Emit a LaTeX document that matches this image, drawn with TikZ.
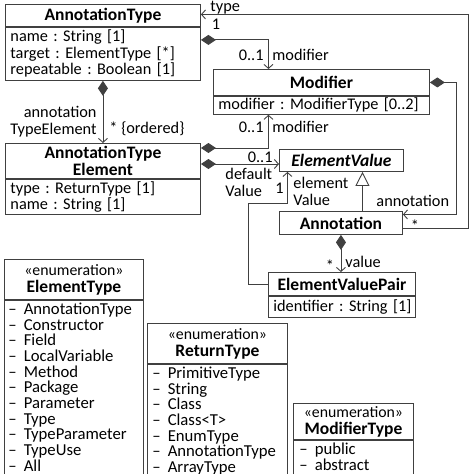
\documentclass[tikz,border=0pt]{standalone}
\usepackage{fontspec}
\setmainfont{Carlito}
\usetikzlibrary{arrows.meta,positioning}
\newcommand{\lit}{–\hspace{7pt}}
\frenchspacing

\begin{document}
\begin{tikzpicture}[x=1pt, y=1pt, line width=0.9pt, font=\fontsize{16.3}{16.5}\selectfont,
  hd/.style={draw=black!75, anchor=north west, inner sep=0pt, align=center, font=\fontsize{17.5}{17}\selectfont\bfseries},
  attr/.style={draw=black!75, inner xsep=5pt, inner ysep=0pt, align=left},
  enumit/.style={draw=black!75, inner xsep=4pt, inner ysep=2pt, align=left, text height=12pt, text depth=200pt, font=\fontsize{16.7}{15.7}\selectfont},
  lbl/.style={inner sep=0pt},
  comp/.style={draw=black!75, {Diamond[length=15pt,width=10pt]}-{Straight Barb[length=4pt,width=9pt]}},
  assoc/.style={draw=black!75, -{Straight Barb[length=4pt,width=9pt]}},
  gen/.style={draw=black!75, -{Triangle[open,length=14pt,width=14pt,fill=white]}}]
\useasboundingbox (0,0) rectangle (474,-474);
\clip (0,0) rectangle (474,-474);
%% classes
\node[hd, minimum width=195pt, minimum height=22pt] (atH) at (5,-4) {AnnotationType};
\node[attr, below=0pt of atH, text width=185pt, minimum height=53pt] (atA) {name : String [1]\\target : ElementType [*]\\repeatable : Boolean [1]};
\node[hd, minimum width=195pt, minimum height=35pt] (ateH) at (5,-143) {AnnotationType\\Element};
\node[attr, below=0pt of ateH, text width=185pt, minimum height=35pt] (ateA) {type : ReturnType [1]\\name : String [1]};
\node[hd, minimum width=216pt, minimum height=26pt] (modH) at (213,-69) {Modifier};
\node[attr, below=0pt of modH, text width=206pt, minimum height=18pt] (modA) {modifier : ModifierType [0..2]};
\node[hd, minimum width=124pt, minimum height=22pt, font=\fontsize{17.5}{17}\selectfont\bfseries\itshape] (ev) at (279,-149) {ElementValue};
\node[hd, minimum width=123pt, minimum height=23pt] (ann) at (279,-211) {Annotation};
\node[hd, minimum width=147pt, minimum height=23pt] (evpH) at (268,-272) {ElementValuePair};
\node[attr, below=0pt of evpH, text width=141pt, inner xsep=3pt, minimum height=21pt] (evpA) {\hspace{2pt}identifier : String [1]};
%% enumerations
\node[hd, minimum width=139pt, minimum height=40pt] (etH) at (4,-259) {{\mdseries\fontsize{15.8}{17}\selectfont «enumeration»}\\ElementType};
\node[enumit, below=0pt of etH, text width=131pt] (etL) {\lit AnnotationType\\\lit Constructor\\\lit Field\\\lit LocalVariable\\\lit Method\\\lit Package\\\lit Parameter\\\lit Type\\\lit TypeParameter\\\lit TypeUse\\\lit All};
\node[hd, minimum width=140pt, minimum height=40pt] (rtH) at (147,-323) {{\mdseries\fontsize{15.8}{17}\selectfont «enumeration»}\\ReturnType};
\node[enumit, below=0pt of rtH, text width=130pt, inner xsep=5pt] (rtL) {\lit PrimitiveType\\\lit String\\\lit Class\\\lit Class<T>\\\lit EnumType\\\lit AnnotationType\\\lit ArrayType};
\node[hd, minimum width=120pt, minimum height=36pt] (mtH) at (293,-403) {{\mdseries\fontsize{15.8}{17}\selectfont «enumeration»}\\ModifierType};
\node[enumit, below=0pt of mtH, text width=108pt, inner xsep=6pt] (mtL) {\lit public\\\lit abstract};
%% associations
\draw[assoc] ([yshift=-5.5pt]ann.east) -- ++(66,0) |- ([yshift=1pt]atH.east);
\draw[comp] ([yshift=-13pt]atA.north east) -| ([xshift=-53pt]modH.north);
\draw[comp] ([yshift=-5pt]ateH.north east) -| ([xshift=-53pt]modA.south);
\draw[comp] ([yshift=-21pt]ateH.north east) -- ([yshift=-21pt]ateH.north east -| ev.west);
\draw[gen] ([xshift=21.5pt]ann.north) -- ([xshift=21.5pt]ann.north |- ev.south);
\draw[assoc] (evpH.west) -| ++(-20,80.5) -| ([xshift=-54pt]ev.south);
\draw[comp] (modH.east) -- ++(27,0) |- ([yshift=8.5pt]ann.east);
\draw[comp] (ann.south) -- (ann.south |- evpH.north);
\draw[comp] (atA.south) -- (atA.south |- ateH.north);
%% role names and multiplicities
\node[lbl, anchor=base west] (lType) at (210,-11) {type};
\node[lbl, anchor=base] (lTypeM) at (216,-29) {1};
\node[lbl, anchor=base east] (lModM1) at (264,-60) {0..1};
\node[lbl, anchor=base west] (lMod1) at (272,-60) {modifier};
\node[lbl, anchor=base east] (lModM2) at (264,-132) {0..1};
\node[lbl, anchor=base west] (lMod2) at (272,-132) {modifier};
\node[lbl, anchor=base east, align=right] (lAnnTE) at (97,-134) {annotation\\TypeElement};
\node[lbl, anchor=base west] (lOrd) at (109,-133) {* \{ordered\}};
\node[lbl, anchor=base east] (lEvM) at (273,-162) {0..1};
\node[lbl, anchor=base west, align=left] (lDef) at (225,-196) {default\\Value};
\node[lbl, anchor=base east] (lEvOne) at (284,-193) {1};
\node[lbl, anchor=base west, align=left] (lEvName) at (293,-205) {element\\Value};
\node[lbl, anchor=base west] (lAnnRole) at (376,-206) {annotation};
\node[lbl, anchor=base] (lAnnM) at (415,-231) {*};
\node[lbl, anchor=base] (lValM) at (330,-271) {*};
\node[lbl, anchor=base west] (lVal) at (345,-267) {value};
\end{tikzpicture}
\end{document}
